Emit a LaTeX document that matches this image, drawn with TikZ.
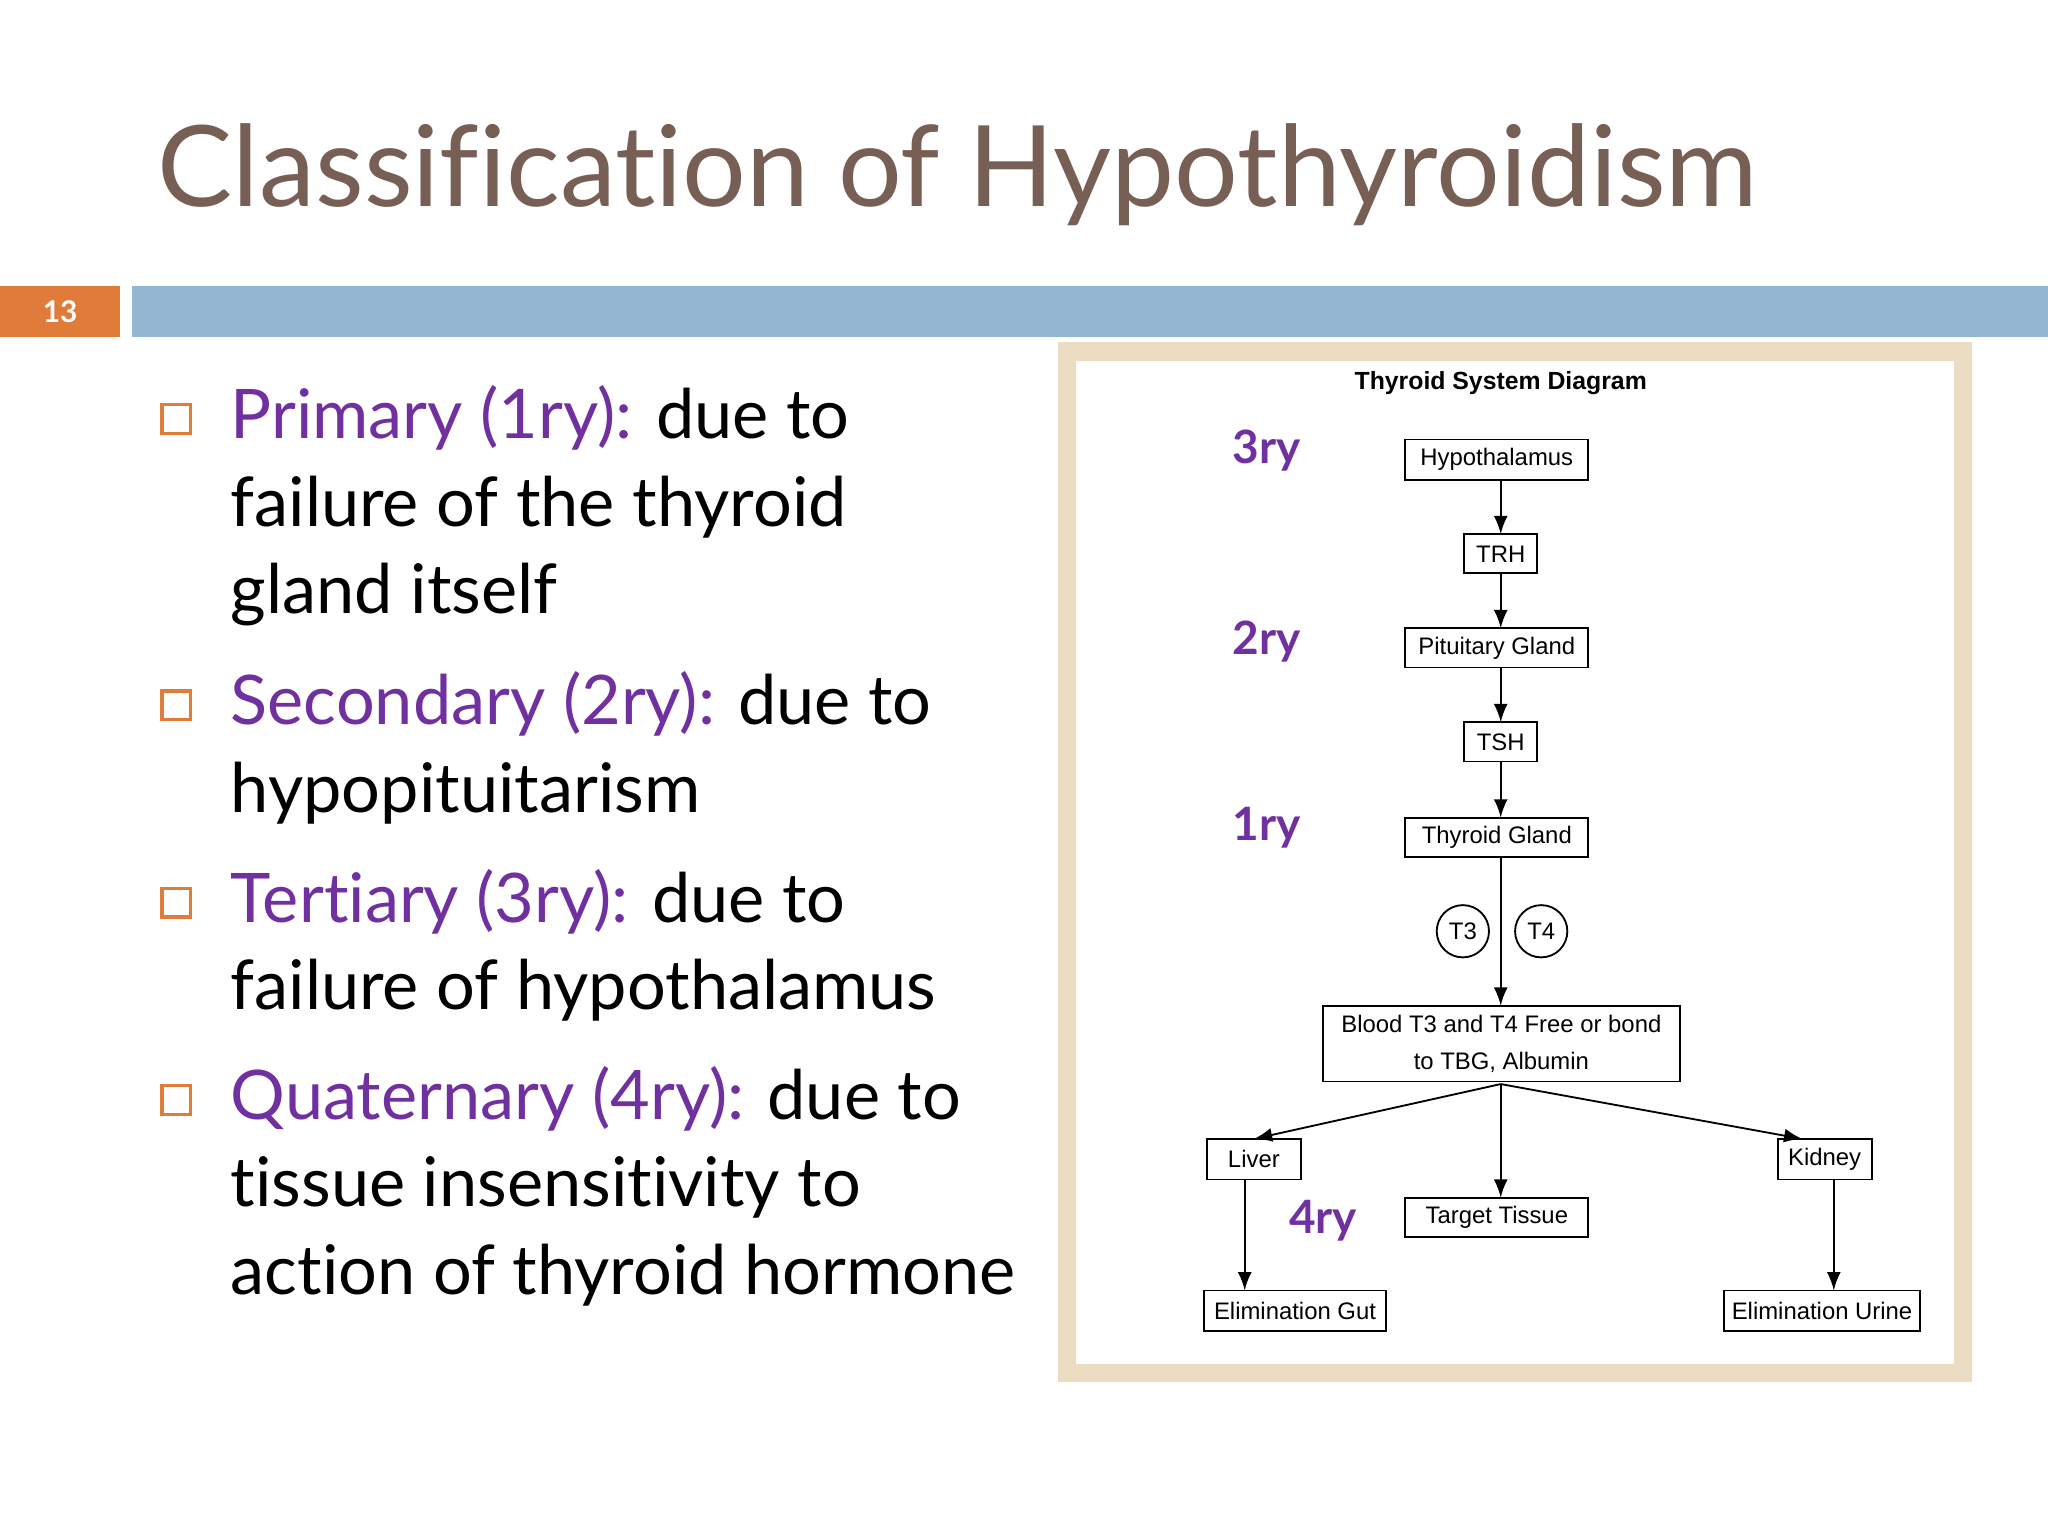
\documentclass[tikz,border=0pt]{standalone}
\usepackage{fontspec}
\setmainfont{Lato}[Ligatures=NoCommon]
\newfontfamily\arial{Liberation Sans}
\definecolor{titlec}{HTML}{775F55}
\definecolor{orng}{HTML}{E07B39}
\definecolor{bluebar}{HTML}{94B6D2}
\definecolor{purp}{HTML}{7030A0}
\definecolor{beige}{HTML}{EBDCC2}
\begin{document}
\begin{tikzpicture}[x=0.01cm,y=-0.01cm,
  bx/.style={draw,line width=0.4pt,inner sep=0pt,font=\arial\fontsize{5.2}{6.2}\selectfont},
  arr/.style={-latex,line width=0.4pt},
  lvl/.style={text=purp,font=\bfseries\fontsize{10}{12}\selectfont},
  body/.style={anchor=base west,inner sep=0pt,font=\fontsize{14.9}{19}\selectfont},
  blt/.style={draw=orng,line width=0.7pt,minimum size=22*0.2845pt,inner sep=0pt}]
\useasboundingbox (0,0) rectangle (1568,1176);
\node[anchor=base west,inner sep=0pt,text=titlec,font=\fontsize{24.5}{30}\selectfont] (title) at (120,158) {Classification of Hypothyroidism};
\fill[orng] (0,219) rectangle (92,258);
\node[text=white,font=\bfseries\fontsize{6.5}{8}\selectfont] (num) at (46,238.5) {13};
\fill[bluebar] (101,219) rectangle (1568,258);
% bullets
\node[blt] (b1) at (135,321) {};
\node[blt] (b2) at (135,540) {};
\node[blt] (b3) at (135,691) {};
\node[blt] (b4) at (135,842) {};
\node[body] (t1a) at (176,336) {\textcolor{purp}{Primary (1ry):} due to};
\node[body] (t1b) at (176,403) {failure of the thyroid};
\node[body] (t1c) at (176,470) {gland itself};
\node[body] (t2a) at (176,555) {\textcolor{purp}{Secondary (2ry):} due to};
\node[body] (t2b) at (176,622) {hypopituitarism};
\node[body] (t3a) at (176,706) {\textcolor{purp}{Tertiary (3ry):} due to};
\node[body] (t3b) at (176,773) {failure of hypothalamus};
\node[body] (t4a) at (176,857) {\textcolor{purp}{Quaternary (4ry):} due to};
\node[body] (t4b) at (176,924) {tissue insensitivity to};
\node[body] (t4c) at (176,991) {action of thyroid hormone};
% frame
\draw[beige,line width=4pt] (817,269) rectangle (1503,1051);
\node[font=\arial\bfseries\fontsize{5.4}{6.5}\selectfont] (dt) at (1149,293) {Thyroid System Diagram};
\node[bx,minimum width=140*0.2845pt,minimum height=31*0.2845pt] (hyp) at (1146,352) {Hypothalamus};
\node[bx,minimum width=56*0.2845pt,minimum height=30*0.2845pt] (trh) at (1149,424) {TRH};
\node[bx,minimum width=140*0.2845pt,minimum height=30*0.2845pt] (pit) at (1146,496) {Pituitary Gland};
\node[bx,minimum width=56*0.2845pt,minimum height=30*0.2845pt] (tsh) at (1149,568) {TSH};
\node[bx,minimum width=140*0.2845pt,minimum height=30*0.2845pt] (thy) at (1146,641) {Thyroid Gland};
\node[bx,circle,minimum size=40*0.2845pt] (t3) at (1120,713) {T3};
\node[bx,circle,minimum size=40*0.2845pt] (t4) at (1180,713) {T4};
\node[bx,minimum width=273*0.2845pt,minimum height=58*0.2845pt,align=center,font=\arial\fontsize{5.2}{8}\selectfont] (blood) at (1149.5,799) {Blood T3 and T4 Free or bond\\to TBG, Albumin};
\node[bx,minimum width=72*0.2845pt,minimum height=31*0.2845pt] (liver) at (960,887.5) {Liver};
\node[bx,minimum width=72*0.2845pt,minimum height=31*0.2845pt] (kid) at (1397,887.5) {Kidney};
\node[bx,minimum width=140*0.2845pt,minimum height=30*0.2845pt] (tgt) at (1146,932) {Target Tissue};
\node[bx,minimum width=139*0.2845pt,minimum height=31*0.2845pt] (gut) at (991.5,1003.5) {Elimination Gut};
\node[bx,minimum width=150*0.2845pt,minimum height=31*0.2845pt] (uri) at (1395,1003.5) {Elimination Urine};
\node[lvl] (l3) at (970,345) {3ry};
\node[lvl] (l2) at (970,491) {2ry};
\node[lvl] (l1) at (970,634) {1ry};
\node[lvl] (l4) at (1013,935) {4ry};
\coordinate (c0) at (1149,368);
\draw[arr] (c0) -- (1149,409);
\draw[arr] (1149,439) -- (1149,481);
\draw[arr] (1149,511) -- (1149,553);
\draw[arr] (1149,583) -- (1149,626);
\draw[arr] (1149,656) -- (1149,770);
\coordinate (bs) at (1149,830);
\draw[arr] (bs) -- (960,872);
\draw[arr] (bs) -- (1380,872);
\draw[arr] (bs) -- (1149,917);
\draw[arr] (953,903) -- (953,988);
\draw[arr] (1404,903) -- (1404,988);
\end{tikzpicture}
\end{document}
